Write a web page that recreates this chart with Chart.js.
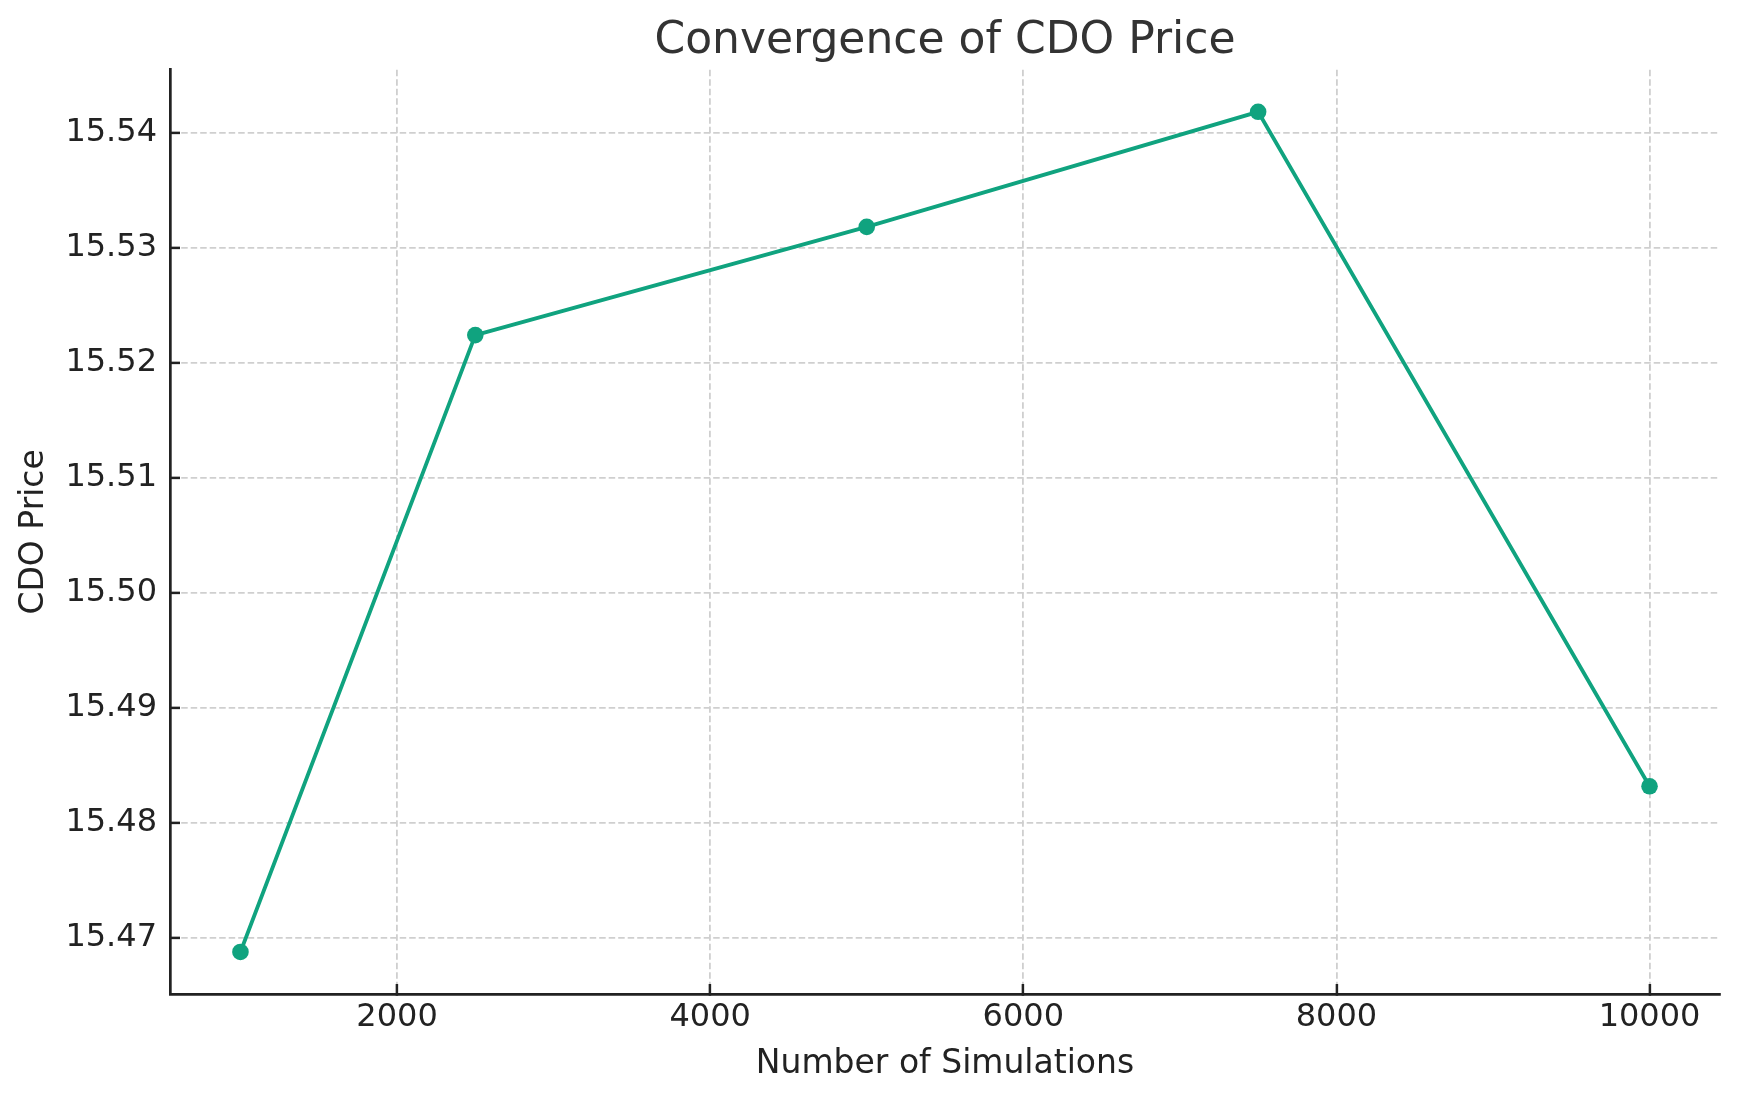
<!DOCTYPE html>
<html>
<head>
<meta charset="utf-8">
<title>Convergence of CDO Price</title>
<script src="https://cdn.jsdelivr.net/npm/chart.js@4.4.1/dist/chart.umd.min.js"></script>
<style>
  html, body { margin: 0; padding: 0; background: #fff; }
  #wrap { width: 1739px; height: 1101px; position: relative; }
</style>
</head>
<body>
<div id="wrap"><canvas id="cdoChart"></canvas></div>
<script>
// values
const simulations = [1000, 2500, 5000, 7500, 10000];
const cdoPrices = [15.4688, 15.5224, 15.5318, 15.5418, 15.4832];
const xTicks = [2000, 4000, 6000, 8000, 10000];
const yTicks = [15.47, 15.48, 15.49, 15.50, 15.51, 15.52, 15.53, 15.54];

const lineColor = "#10a37f";
const gridColor = "#cfcfcf";
const spineColor = "#222222";
const fontFamily = "'DejaVu Sans', sans-serif";

Chart.defaults.font.family = fontFamily;

const ctx = document.getElementById("cdoChart").getContext("2d");

new Chart(ctx, {
  type: "line",
  data: {
    datasets: [
      {
        label: "CDO Price",
        data: simulations.map((x, i) => ({ x: x, y: cdoPrices[i] })),
        borderColor: lineColor,
        backgroundColor: lineColor,
        borderWidth: 3.8,
        pointRadius: 8.3,
        pointHoverRadius: 8.3,
        pointBorderWidth: 0,
        pointBackgroundColor: lineColor,
        tension: 0,
        fill: false,
      },
    ],
  },
  options: {
    responsive: true,
    maintainAspectRatio: false,
    devicePixelRatio: 1,
    animation: false,
    layout: { padding: { left: 0, right: 19, top: 0, bottom: 0 } },
    plugins: {
      legend: { display: false },
      tooltip: { enabled: false },
      title: {
        display: true,
        fullSize: false, // center over the plot area, like the reference
        text: "Convergence of CDO Price",
        color: "#333333",
        font: { size: 44, weight: "normal" },
        padding: { top: 15, bottom: 2 },
      },
    },
    scales: {
      x: {
        type: "linear",
        min: 550,
        max: 10450,
        afterBuildTicks: (scale) => {
          scale.ticks = xTicks.map((v) => ({ value: v }));
        },
        afterFit: (scale) => {
          scale.height = 107;
        },
        ticks: {
          color: spineColor,
          font: { size: 32 },
          padding: 14,
          maxRotation: 0,
          callback: (value) => String(value),
        },
        grid: {
          color: gridColor,
          lineWidth: 1.8,
          borderDash: [6.5, 3],
          drawTicks: true,
          tickLength: -10,
          tickColor: spineColor,
          tickWidth: 2.5,
          tickBorderDash: [],
        },
        border: { display: true, color: spineColor, width: 2.7, dash: [6.5, 3] },
        title: {
          display: true,
          text: "Number of Simulations",
          color: spineColor,
          font: { size: 33 },
          padding: { top: 0, bottom: 17 },
        },
      },
      y: {
        type: "linear",
        min: 15.46515,
        max: 15.54545,
        afterBuildTicks: (scale) => {
          scale.ticks = yTicks.map((v) => ({ value: v }));
        },
        afterFit: (scale) => {
          scale.width = 170;
        },
        ticks: {
          color: spineColor,
          font: { size: 32 },
          padding: 23,
          callback: (value) => Number(value).toFixed(2),
        },
        grid: {
          color: gridColor,
          lineWidth: 1.8,
          borderDash: [6.5, 3],
          drawTicks: true,
          tickLength: -10,
          tickColor: spineColor,
          tickWidth: 2.5,
          tickBorderDash: [],
        },
        border: { display: true, color: spineColor, width: 2.7, dash: [6.5, 3] },
        title: {
          display: true,
          text: "CDO Price",
          color: spineColor,
          font: { size: 33 },
          padding: { top: 15, bottom: 0 },
        },
      },
    },
  },
});
</script>
</body>
</html>
